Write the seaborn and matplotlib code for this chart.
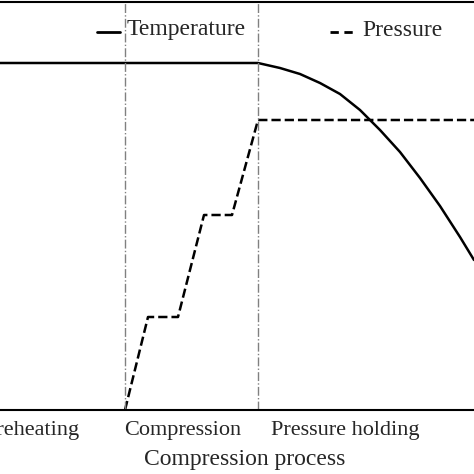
import matplotlib
matplotlib.use("Agg")
import matplotlib.pyplot as plt
import seaborn as sns

sns.set_style("white")
plt.rcParams['font.family'] = ['Liberation Serif', 'DejaVu Serif']

# time axis (arbitrary units) and levels (arbitrary units)
temp_t = [0, 258, 280, 300, 320, 340, 360, 380, 400, 420, 440, 460, 474]
temp_v = [347, 347, 342, 336, 327, 316, 300, 280, 258, 232, 204, 173, 150]
pres_t = [125, 148, 178, 204, 232, 258, 474]
pres_v = [0, 93, 93, 195, 195, 290, 290]
phase_bounds = [125, 258]
phase_labels = ["Preheating", "Compression", "Pressure holding"]
phase_label_x = [32, 183, 345]

fig = plt.figure(figsize=(4.74, 4.74), dpi=100)
ax = fig.add_axes([0, 64 / 474, 1, 408 / 474])
sns.lineplot(x=temp_t, y=temp_v, ax=ax, color='black', lw=1.8, label='Temperature')
sns.lineplot(x=pres_t, y=pres_v, ax=ax, color='black', lw=1.8, ls='--', label='Pressure')
for b in phase_bounds:
    ax.axvline(b, color='gray', lw=1, ls='-.')
ax.set_xlim(0, 474)
ax.set_ylim(0, 408)
ax.set_xticks([])
ax.set_yticks([])
for s in ['left', 'right']:
    ax.spines[s].set_visible(False)
for s in ['top', 'bottom']:
    ax.spines[s].set_color('black')
    ax.spines[s].set_linewidth(1.5)
for x, lab in zip(phase_label_x, phase_labels):
    ax.text(x, -20, lab, ha='center', va='center', fontsize=16)
ax.text(245, -50, "Compression process", ha='center', va='center', fontsize=17)
ax.get_legend().remove()
ax.plot([97, 120], [378, 378], color='black', lw=2)
ax.text(127, 380, "Temperature", ha='left', va='center', fontsize=17)
ax.plot([330, 355], [378, 378], color='black', lw=2, ls='--', dashes=(3, 2))
ax.text(362, 380, "Pressure", ha='left', va='center', fontsize=17)
fig.savefig("out.png", dpi=100)
